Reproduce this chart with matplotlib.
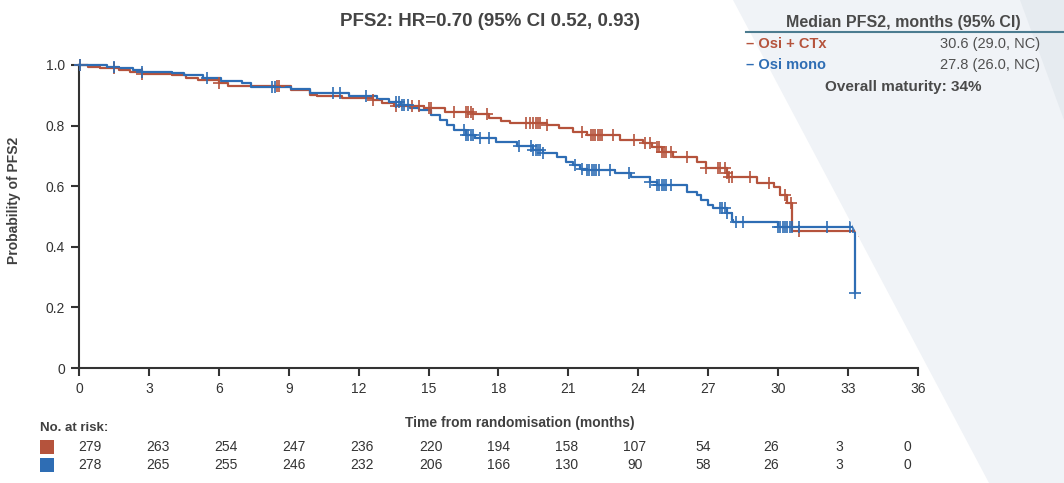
import numpy as np
import matplotlib
matplotlib.use("Agg")
import matplotlib.pyplot as plt
from matplotlib.patches import Polygon, Rectangle

# ---------------- data ----------------
red_t = [0, 0.4, 0.9, 1.7, 2.2, 2.7, 4.0, 4.6, 5.1, 6.0, 6.4, 9.1, 9.9, 10.2, 11.3,
         12.6, 13.0, 13.5, 14.8, 15.7, 16.9, 17.6, 18.1, 18.5, 20.1, 20.6, 21.2,
         21.8, 23.2, 24.2, 24.6, 25.0, 25.5, 26.5, 26.9, 27.8, 27.85, 29.1, 29.8,
         30.1, 30.4, 30.6]
red_s = [1.0, 0.994, 0.989, 0.983, 0.978, 0.970, 0.967, 0.958, 0.950, 0.940, 0.930,
         0.918, 0.901, 0.898, 0.890, 0.884, 0.875, 0.865, 0.858, 0.845, 0.838,
         0.825, 0.815, 0.810, 0.802, 0.792, 0.779, 0.769, 0.752, 0.742, 0.730,
         0.713, 0.696, 0.680, 0.660, 0.643, 0.630, 0.610, 0.597, 0.571, 0.545,
         0.452]
red_end = 33.45
red_cens = [0.05, 1.5, 2.7, 6.0, 8.5, 8.6, 12.6, 13.6, 14.3, 14.6, 15.0, 15.1, 16.1,
            16.6, 16.7, 16.8, 16.9, 17.5, 19.2, 19.35, 19.5, 19.6, 19.7, 19.8, 20.1,
            21.6, 21.95, 22.05, 22.15, 22.25, 22.35, 22.45, 22.9, 23.8, 24.3, 24.5,
            24.8, 24.9, 25.0, 25.1, 25.2, 25.4, 26.1, 26.9, 27.4, 27.5, 27.7, 27.8,
            27.9, 28.0, 28.8, 29.6, 30.3, 30.55, 30.9, 33.45]

blue_t = [0, 1.2, 1.7, 2.3, 2.7, 4.0, 4.5, 5.3, 6.1, 7.0, 7.4, 9.1, 9.9, 11.6, 12.8,
          13.3, 13.8, 14.2, 14.6, 15.1, 15.5, 15.8, 16.1, 16.6, 17.0, 17.9, 18.8,
          19.5, 19.9, 20.5, 20.9, 21.2, 21.5, 21.8, 23.0, 23.7, 24.5, 24.8, 26.1,
          26.5, 26.7, 27.0, 27.2, 27.8, 28.0, 28.05, 30.0, 33.3]
blue_s = [1.0, 0.994, 0.989, 0.983, 0.978, 0.972, 0.967, 0.957, 0.947, 0.940, 0.929,
          0.920, 0.907, 0.899, 0.888, 0.879, 0.868, 0.858, 0.850, 0.835, 0.818,
          0.802, 0.785, 0.769, 0.759, 0.746, 0.733, 0.720, 0.710, 0.696, 0.680,
          0.670, 0.657, 0.653, 0.643, 0.630, 0.614, 0.604, 0.581, 0.571, 0.554,
          0.538, 0.528, 0.512, 0.488, 0.482, 0.465, 0.248]
blue_end = 33.3
blue_cens = [0.05, 1.5, 2.7, 5.5, 8.3, 8.4, 10.9, 11.2, 12.3, 13.6, 13.75, 13.85,
             13.95, 14.1, 16.5, 16.6, 16.7, 16.8, 16.9, 17.2, 17.6, 18.9, 19.4, 19.5,
             19.6, 19.7, 19.8, 19.9, 21.3, 21.6, 21.8, 21.9, 22.0, 22.1, 22.2, 22.3,
             22.8, 23.6, 24.5, 24.8, 24.9, 25.0, 25.1, 25.2, 25.4, 27.5, 27.6, 27.7,
             27.8, 28.2, 28.5, 30.0, 30.1, 30.2, 30.3, 30.4, 30.5, 30.6, 30.9, 32.1,
             33.1, 33.2, 33.3]

risk_red = [279, 263, 254, 247, 236, 220, 194, 158, 107, 54, 26, 3, 0]
risk_blue = [278, 265, 255, 246, 232, 206, 166, 130, 90, 58, 26, 3, 0]
xticks = list(range(0, 37, 3))
yticks = [0, 0.2, 0.4, 0.6, 0.8, 1.0]
ytick_labels = ["0", "0.2", "0.4", "0.6", "0.8", "1.0"]

title = "PFS2: HR=0.70 (95% CI 0.52, 0.93)"
arm_names = ["Osi + CTx", "Osi mono"]
medians = ["30.6 (29.0, NC)", "27.8 (26.0, NC)"]

RED = "#B5533C"
BLUE = "#2E6DB4"
TXT = "#404040"

plt.rcParams['font.family'] = ['Liberation Sans', 'DejaVu Sans']

W, H = 1064, 483
fig = plt.figure(figsize=(W / 100, H / 100), dpi=100)
fig.patch.set_facecolor("white")

def fx(px):
    return px / W

def fy(py):
    return 1 - py / H

# background swoosh
fig.patches.append(Polygon([(fx(733), fy(0)), (fx(W), fy(0)), (fx(W), fy(H)), (fx(989), fy(H))],
                           closed=True, transform=fig.transFigure, facecolor="#F0F3F7",
                           edgecolor="none", zorder=0))
fig.patches.append(Polygon([(fx(1020), fy(0)), (fx(W), fy(0)), (fx(W), fy(120))],
                           closed=True, transform=fig.transFigure, facecolor="#E6EBF0",
                           edgecolor="none", zorder=0))

ax = fig.add_axes([fx(79), fy(368), fx(918) - fx(79), fy(65) - fy(368)])
ax.patch.set_alpha(0)
ax.set_xlim(0, 36)
ax.set_ylim(0, 1.0)
for s in ["top", "right"]:
    ax.spines[s].set_visible(False)
for s in ["left", "bottom"]:
    ax.spines[s].set_color("#333333")
    ax.spines[s].set_linewidth(1.5)
ax.set_xticks(xticks)
ax.set_yticks(yticks)
ax.set_yticklabels(ytick_labels)
ax.tick_params(direction="out", length=6, width=1.5, color="#333333",
               labelsize=10, labelcolor="#333333", pad=4)

def step_value(ts, ss, t):
    i = np.searchsorted(np.array(ts), t, side="right") - 1
    return np.array(ss)[i]

for ts, ss, end, cens, col in [(red_t, red_s, red_end, red_cens, RED),
                               (blue_t, blue_s, blue_end, blue_cens, BLUE)]:
    tt = list(ts) + [end]
    sv = list(ss) + [ss[-1]]
    ax.step(tt, sv, where="post", color=col, lw=1.6, clip_on=False, zorder=3)
    cy = [step_value(ts, ss, c) for c in cens]
    ax.plot(cens, cy, linestyle="none", marker="+", ms=8, mew=1.2, color=col,
            clip_on=False, zorder=4)

fig.text(fx(14), fy(200), "Probability of PFS2", rotation=90, ha="center", va="center",
         fontsize=10, fontweight="bold", color=TXT)

fig.text(fx(520), fy(423), "Time from randomisation (months)", ha="center", va="center",
         fontsize=10, fontweight="bold", color=TXT)

fig.text(fx(490), fy(22), title, ha="center", va="center", fontsize=13.5,
         fontweight="bold", color="#444444")

# risk table
fig.text(fx(40), fy(428), "No. at risk:", ha="left", va="center", fontsize=9.5,
         fontweight="bold", color=TXT)
for row, (vals, col) in enumerate([(risk_red, RED), (risk_blue, BLUE)]):
    yc = 447 + row * 18
    fig.patches.append(Rectangle((fx(40), fy(yc + 7)), fx(14), fy(0) - fy(14),
                                 transform=fig.transFigure, facecolor=col, edgecolor="none"))
    for i, v in enumerate(vals):
        xc = 90 + i * 68.1
        fig.text(fx(xc), fy(yc), str(v), ha="center", va="center", fontsize=10, color="#333333")

# median box
fig.text(fx(903), fy(23), "Median PFS2, months (95% CI)", ha="center", va="center",
         fontsize=11.5, fontweight="bold", color="#4a4a4a")
fig.add_artist(plt.Line2D([fx(746), fx(W)], [fy(32), fy(32)], transform=fig.transFigure,
                          color="#4C7C90", lw=1.5))
for k, (nm, md, col) in enumerate(zip(arm_names, medians, [RED, BLUE])):
    yc = 44 + k * 21
    fig.text(fx(746), fy(yc), "– " + nm, ha="left", va="center", fontsize=10.5,
             fontweight="bold", color=col)
    fig.text(fx(1040), fy(yc), md, ha="right", va="center", fontsize=10.5, color="#505050")
fig.text(fx(903), fy(87), "Overall maturity: 34%", ha="center", va="center",
         fontsize=11, fontweight="bold", color="#4a4a4a")

fig.savefig("out.png", dpi=100)
